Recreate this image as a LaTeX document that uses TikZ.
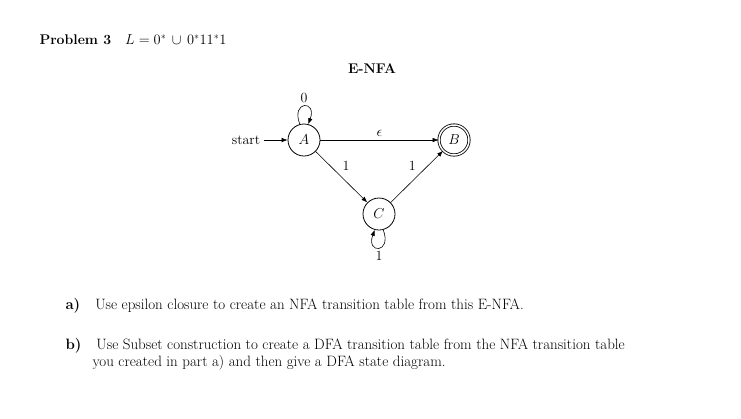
\documentclass[tikz,border=0pt]{standalone}
\usetikzlibrary{arrows.meta,automata}
\begin{document}
\begin{tikzpicture}[x=1pt,y=-1pt,
 st/.style={circle,draw,thick,minimum size=32pt,inner sep=0pt,font=\fontsize{14}{16}\selectfont},
 acc/.style={st,double,double distance=1.5pt,minimum size=30pt},
 lab/.style={font=\fontsize{14}{16}\selectfont},
 ed/.style={-{Latex[length=6pt]},semithick},
 txt/.style={anchor=west,font=\fontsize{15}{18}\selectfont}]
\useasboundingbox (0,0) rectangle (741,418);
\node[anchor=west,font=\fontsize{14}{17}\selectfont] (t) at (36,40) {\textbf{Problem 3}\quad $L=0^*\,\cup\,0^*11^*1$};
\node[font=\fontsize{14}{17}\selectfont\bfseries] (h) at (372,69) {E-NFA};
\node[st] (A) at (304,140) {$A$};
\node[acc] (B) at (454,140) {$B$};
\node[st] (C) at (379,214) {$C$};
\node[lab] (s) at (246,140) {start};
\draw[ed] (s) -- (A);
\draw[ed] (A) -- node[above,lab] {$\epsilon$} (B);
\draw[ed] (A) -- node[above right,lab,pos=0.45] {1} (C);
\draw[ed] (C) -- node[above left,lab,pos=0.55] {1} (B);
\draw[ed] (A.105) .. controls +(-9,-24) and +(9,-24) .. node[above,lab] {0} (A.75);
\draw[ed] (C.-75) .. controls +(9,24) and +(-9,24) .. node[below,lab] {1} (C.-105);
\node[txt] (a) at (62,306) {\textbf{a)}\quad Use epsilon closure to create an NFA transition table from this E-NFA.};
\node[txt] (b) at (62,346) {\textbf{b)}\quad Use Subset construction to create a DFA transition table from the NFA transition table};
\node[txt] (b2) at (89,363) {you created in part a) and then give a DFA state diagram.};
\end{tikzpicture}
\end{document}
